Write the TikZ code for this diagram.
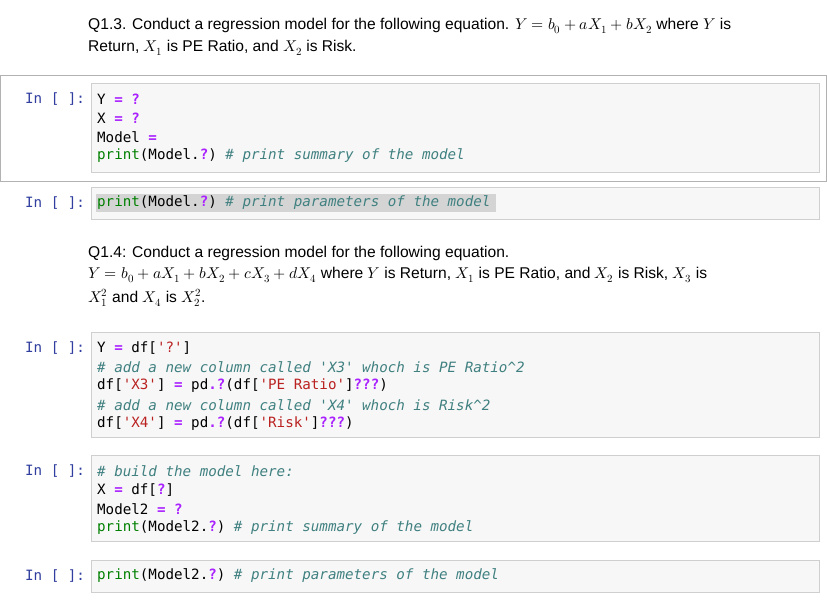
\documentclass[tikz,border=0pt]{standalone}
\usepackage{fontspec}
\setmainfont{Liberation Sans}
\setmonofont{DejaVu Sans Mono}
\usepackage{unicode-math}
\setmathfont{Latin Modern Math}
\definecolor{kw}{RGB}{0,128,0}
\definecolor{op}{RGB}{170,34,255}
\definecolor{cm}{RGB}{64,128,128}
\definecolor{st}{RGB}{186,33,33}
\definecolor{pr}{RGB}{48,63,159}
\definecolor{cellbg}{RGB}{247,247,247}
\definecolor{cellbd}{RGB}{207,207,207}
\newcommand{\kwd}[1]{\textcolor{kw}{#1}}
\newcommand{\opr}[1]{\textcolor{op}{\textbf{#1}}}
\newcommand{\cmt}[1]{\textcolor{cm}{\itshape #1}}
\newcommand{\strg}[1]{\textcolor{st}{#1}}
\begin{document}
\begin{tikzpicture}[x=1pt,y=-1pt,
  cellbox/.style={draw=cellbd,fill=cellbg},
  code/.style={anchor=west,inner sep=0pt,font=\ttfamily\fontsize{14.2}{16}\selectfont},
  prompt/.style={anchor=west,inner sep=0pt,text=pr,font=\ttfamily\fontsize{14.2}{16}\selectfont},
  prose/.style={anchor=west,inner sep=0pt,font=\fontsize{15.6}{18}\selectfont}]
\useasboundingbox[fill=white] (0,0) rectangle (827,607);
% Q1.3
\node[prose] (q1a) at (88,26) {Q1.3. Conduct a regression model for the following equation. $Y=b_0+aX_1+bX_2$ where $Y$ is};
\node[prose] (q1b) at (88,48) {Return, $X_1$ is PE Ratio, and $X_2$ is Risk.};
% selected cell
\draw[draw=black!30] (0.5,75) rectangle (826.5,181);
\draw[cellbox] (91,83) rectangle (819,172);
\node[prompt] (p1) at (25,99) {In [ ]:};
\node[code] (c1a) at (97,99) {Y \opr{=} \opr{?}};
\node[code] (c1b) at (97,118) {X \opr{=} \opr{?}};
\node[code] (c1c) at (97,137) {Model \opr{=}};
\node[code] (c1d) at (97,156) {\kwd{print}(Model.\opr{?}) \cmt{\# print summary of the model}};
% cell 2
\draw[cellbox] (91,187) rectangle (819,219);
\fill[black!17] (96,194) rectangle (496,212);
\node[prompt] (p2) at (25,203) {In [ ]:};
\node[code] (c2) at (97,203) {\kwd{print}(Model.\opr{?}) \cmt{\# print parameters of the model}};
% Q1.4
\node[prose] (q2a) at (88,253) {Q1.4: Conduct a regression model for the following equation.};
\node[prose] (q2b) at (88,275) {$Y=b_0+aX_1+bX_2+cX_3+dX_4$ where $Y$ is Return, $X_1$ is PE Ratio, and $X_2$ is Risk, $X_3$ is};
\node[prose] (q2c) at (88,298) {$X_1^2$ and $X_4$ is $X_2^2$.};
% cell 3
\draw[cellbox] (91,332) rectangle (819,437);
\node[prompt] (p3) at (25,348) {In [ ]:};
\node[code] (c3a) at (97,348) {Y \opr{=} df[\strg{'?'}]};
\node[code] (c3b) at (97,367) {\cmt{\# add a new column called 'X3' whoch is PE Ratio\textasciicircum 2}};
\node[code] (c3c) at (97,386) {df[\strg{'X3'}] \opr{=} pd\opr{.}\opr{?}(df[\strg{'PE Ratio'}]\opr{???})};
\node[code] (c3d) at (97,405) {\cmt{\# add a new column called 'X4' whoch is Risk\textasciicircum 2}};
\node[code] (c3e) at (97,424) {df[\strg{'X4'}] \opr{=} pd\opr{.}\opr{?}(df[\strg{'Risk'}]\opr{???})};
% cell 4
\draw[cellbox] (91,455) rectangle (819,541);
\node[prompt] (p4) at (25,471) {In [ ]:};
\node[code] (c4a) at (97,471) {\cmt{\# build the model here:}};
\node[code] (c4b) at (97,490) {X \opr{=} df[\opr{?}]};
\node[code] (c4c) at (97,509) {Model2 \opr{=} \opr{?}};
\node[code] (c4d) at (97,528) {\kwd{print}(Model2.\opr{?}) \cmt{\# print summary of the model}};
% cell 5
\draw[cellbox] (91,560) rectangle (819,592);
\node[prompt] (p5) at (25,576) {In [ ]:};
\node[code] (c5) at (97,576) {\kwd{print}(Model2.\opr{?}) \cmt{\# print parameters of the model}};
\end{tikzpicture}
\end{document}
